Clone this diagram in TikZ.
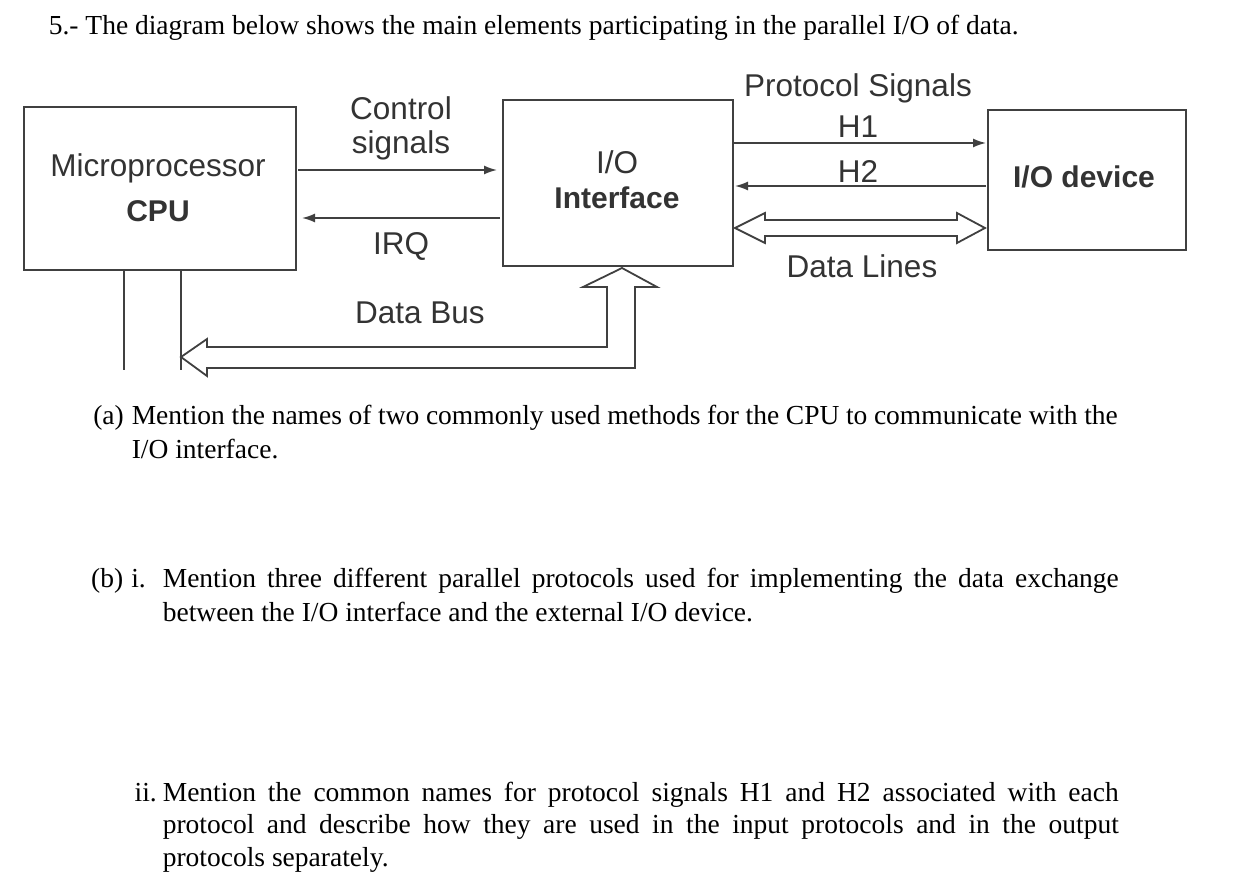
\documentclass[tikz,border=0pt]{standalone}
\usepackage{fontspec}
\setmainfont{Liberation Serif}
\newfontfamily\arialf{Liberation Sans}
\usetikzlibrary{arrows.meta}
\begin{document}
\begin{tikzpicture}[x=1pt,y=-1pt,line width=1.6pt,draw=black!75,
  box/.style={draw=black!75,line width=2pt},
  sans/.style={font=\arialf\fontsize{31.5}{34}\selectfont,text=black!80,inner sep=0pt},
  bsans/.style={sans,font=\arialf\bfseries\fontsize{30}{34}\selectfont},
  ser/.style={font=\fontsize{27.5}{34}\selectfont,inner sep=0pt,anchor=north west},
  arr/.style={-{Latex[length=13pt,width=9pt]}}]
\useasboundingbox (0,0) rectangle (1234,893);
% boxes
\draw[box] (24,107) rectangle (296,270);
\draw[box] (503,100) rectangle (733,266);
\draw[box] (988,110) rectangle (1186,250);
\node[sans] (mt) at (158,168) {Microprocessor};
\node[bsans] (cpu) at (158,211) {CPU};
\node[sans] (io1) at (617,162) {I/O};
\node[bsans] (io2) at (617,198) {Interface};
\node[bsans] (dev) at (1084,177) {I/O device};
% labels
\node[sans] (cs1) at (401,108) {Control};
\node[sans] (cs2) at (401,145) {signals};
\node[sans] (irq) at (401,246) {IRQ};
\node[sans] (db) at (420,313) {Data Bus};
\node[sans] (ps) at (858,88) {Protocol Signals};
\node[sans] (h1) at (858,127) {H1};
\node[sans] (h2) at (858,172) {H2};
\node[sans] (dl) at (862,266) {Data Lines};
% arrows
\coordinate (c1) at (298,170); \coordinate (c2) at (497,170);
\draw[arr] (c1) -- (c2);
\coordinate (i1) at (500,218); \coordinate (i2) at (302,218);
\draw[arr] (i1) -- (i2);
\coordinate (a1) at (733,143); \coordinate (a2) at (986,143);
\draw[arr] (a1) -- (a2);
\coordinate (b1) at (986,186); \coordinate (b2) at (735,186);
\draw[arr] (b1) -- (b2);
% data lines double arrow
\draw[line width=1.8pt,line join=miter] (735,228) -- (765,213) -- (765,220) -- (957,220) -- (957,213) -- (985,228) -- (957,243) -- (957,236) -- (765,236) -- (765,243) -- cycle;
% data bus
\draw[line width=1.6pt] (124,270) -- (124,370);
\draw[line width=1.6pt] (181,270) -- (181,370);
\draw[line width=1.8pt,line join=miter] (207,347) -- (607,347) -- (607,287) -- (583,287) -- (622,268) -- (657,287) -- (635,287) -- (635,368) -- (207,368) -- (207,376) -- (181,357) -- (207,339) -- cycle;
% text
\node[ser] (q) at (48,14) {5.- The diagram below shows the main elements participating in the parallel I/O of data.};
\node[ser,text width=986pt,align=justify] (qat) at (131,404) {\hspace*{0pt}\llap{(a)\hspace{8pt}}Mention the names of two commonly used methods for the CPU to communicate with the\linebreak I/O interface.};
\node[ser,text width=956pt,align=justify] (qbt) at (162,567) {\hspace*{0pt}\llap{(b)\hspace{8pt}i.\hspace{17pt}}Mention three different parallel protocols used for implementing the data exchange\linebreak between the I/O interface and the external I/O device.};
\node[ser,text width=956pt,align=justify,font=\fontsize{27.5}{32.5}\selectfont] (qiit) at (162,781) {\hspace*{0pt}\llap{ii.\hspace{6pt}}Mention the common names for protocol signals H1 and H2 associated with each\linebreak protocol and describe how they are used in the input protocols and in the output\linebreak protocols separately.};
\end{tikzpicture}
\end{document}
